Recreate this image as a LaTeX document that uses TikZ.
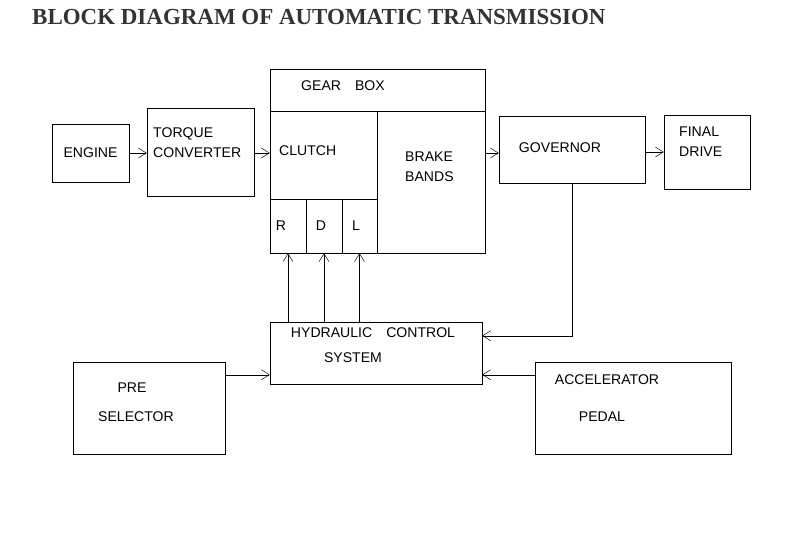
\documentclass[tikz,border=0pt]{standalone}
\usepackage{fontspec}
\setmainfont{Liberation Sans}
\newfontfamily\titlefont{Liberation Serif}
\usetikzlibrary{calc,positioning,arrows.meta}

\begin{document}
\begin{tikzpicture}[x=0.03cm, y=-0.03cm,
        box/.style={draw, thin, inner sep=0pt},
        txt/.style={inner sep=0pt, font=\fontsize{12}{17}\selectfont, align=left},
        flow/.style={-{Straight Barb[length=2.4mm, width=3mm]}, thin}]
        \useasboundingbox (0,0) rectangle (789,537);

        \node [inner sep=0pt, anchor=west, font=\titlefont\bfseries\fontsize{19.6}{22}\selectfont, text=black!80] (title) at (32,17) {BLOCK DIAGRAM OF AUTOMATIC TRANSMISSION};

        % Blocks
        \node [box, minimum width=2.31cm, minimum height=1.74cm] (engine) at (90.5,153) {};
        \node [box, minimum width=3.21cm, minimum height=2.64cm] (torque) at (200.5,152) {};
        \node [box, minimum width=6.45cm, minimum height=5.52cm] (gearbox) at (377.5,161) {};
        \node [box, minimum width=6.45cm, minimum height=1.26cm] (header) at (377.5,90) {};
        \node [box, minimum width=3.21cm, minimum height=2.64cm] (clutch) at (323.5,155) {};
        \node [box, minimum width=3.24cm, minimum height=4.26cm] (brake) at (431,182) {};
        \node [box, minimum width=1.08cm, minimum height=1.62cm] (rcell) at (288,226) {};
        \node [box, minimum width=1.08cm, minimum height=1.62cm] (dcell) at (324,226) {};
        \node [box, minimum width=1.05cm, minimum height=1.62cm] (lcell) at (359.5,226) {};
        \node [box, minimum width=4.38cm, minimum height=2.01cm] (governor) at (572,149.5) {};
        \node [box, minimum width=2.58cm, minimum height=2.22cm] (final) at (707,152) {};
        \node [box, minimum width=6.36cm, minimum height=1.86cm] (hydraulic) at (376,353) {};
        \node [box, minimum width=4.56cm, minimum height=2.76cm] (pre) at (149,408) {};
        \node [box, minimum width=5.88cm, minimum height=2.76cm] (accel) at (633,408) {};

        % Texts
        \node [txt] (t-engine) at (90.5,153) {ENGINE};
        \node [txt, anchor=west] (t-torque) at (153,143) {TORQUE\\CONVERTER};
        \node [txt] (t-gear) at (343,86) {GEAR\quad BOX};
        \node [txt, anchor=west] (t-clutch) at (279,151) {CLUTCH};
        \node [txt, anchor=west] (t-brake) at (405,167) {BRAKE\\BANDS};
        \node [txt] (t-r) at (281,226) {R};
        \node [txt] (t-d) at (321,226) {D};
        \node [txt] (t-l) at (356,226) {L};
        \node [txt] (t-governor) at (560,148) {GOVERNOR};
        \node [txt, anchor=west] (t-final) at (679,142) {FINAL\\DRIVE};
        \node [txt] (t-hyd1) at (373,333) {HYDRAULIC\quad CONTROL};
        \node [txt] (t-hyd2) at (353,358) {SYSTEM};
        \node [txt] (t-pre1) at (132,388) {PRE};
        \node [txt] (t-pre2) at (136,417) {SELECTOR};
        \node [txt] (t-acc1) at (607,380) {ACCELERATOR};
        \node [txt] (t-acc2) at (602,417) {PEDAL};

        % Connectors
        \coordinate (gov-in) at ($(hydraulic.north east)+(0,14)$);
        \coordinate (pre-out) at ($(pre.north east)+(0,13)$);
        \coordinate (acc-out) at ($(accel.north west)+(0,13)$);

        \draw[flow] (engine.east) -- (engine.east -| torque.west);
        \draw[flow] (torque.east |- t-engine) -- (t-engine -| clutch.west);
        \draw[flow] (t-engine -| gearbox.east) -- (t-engine -| governor.west);
        \draw[flow] (governor.east |- final) -- (final.west);
        \draw[flow] (rcell.south |- hydraulic.north) -- (rcell.south);
        \draw[flow] (dcell.south |- hydraulic.north) -- (dcell.south);
        \draw[flow] (lcell.south |- hydraulic.north) -- (lcell.south);
        \draw[flow] (governor.south) |- (gov-in);
        \draw[flow] (pre-out) -- (pre-out -| hydraulic.west);
        \draw[flow] (acc-out) -- (acc-out -| hydraulic.east);
    \end{tikzpicture}
\end{document}
